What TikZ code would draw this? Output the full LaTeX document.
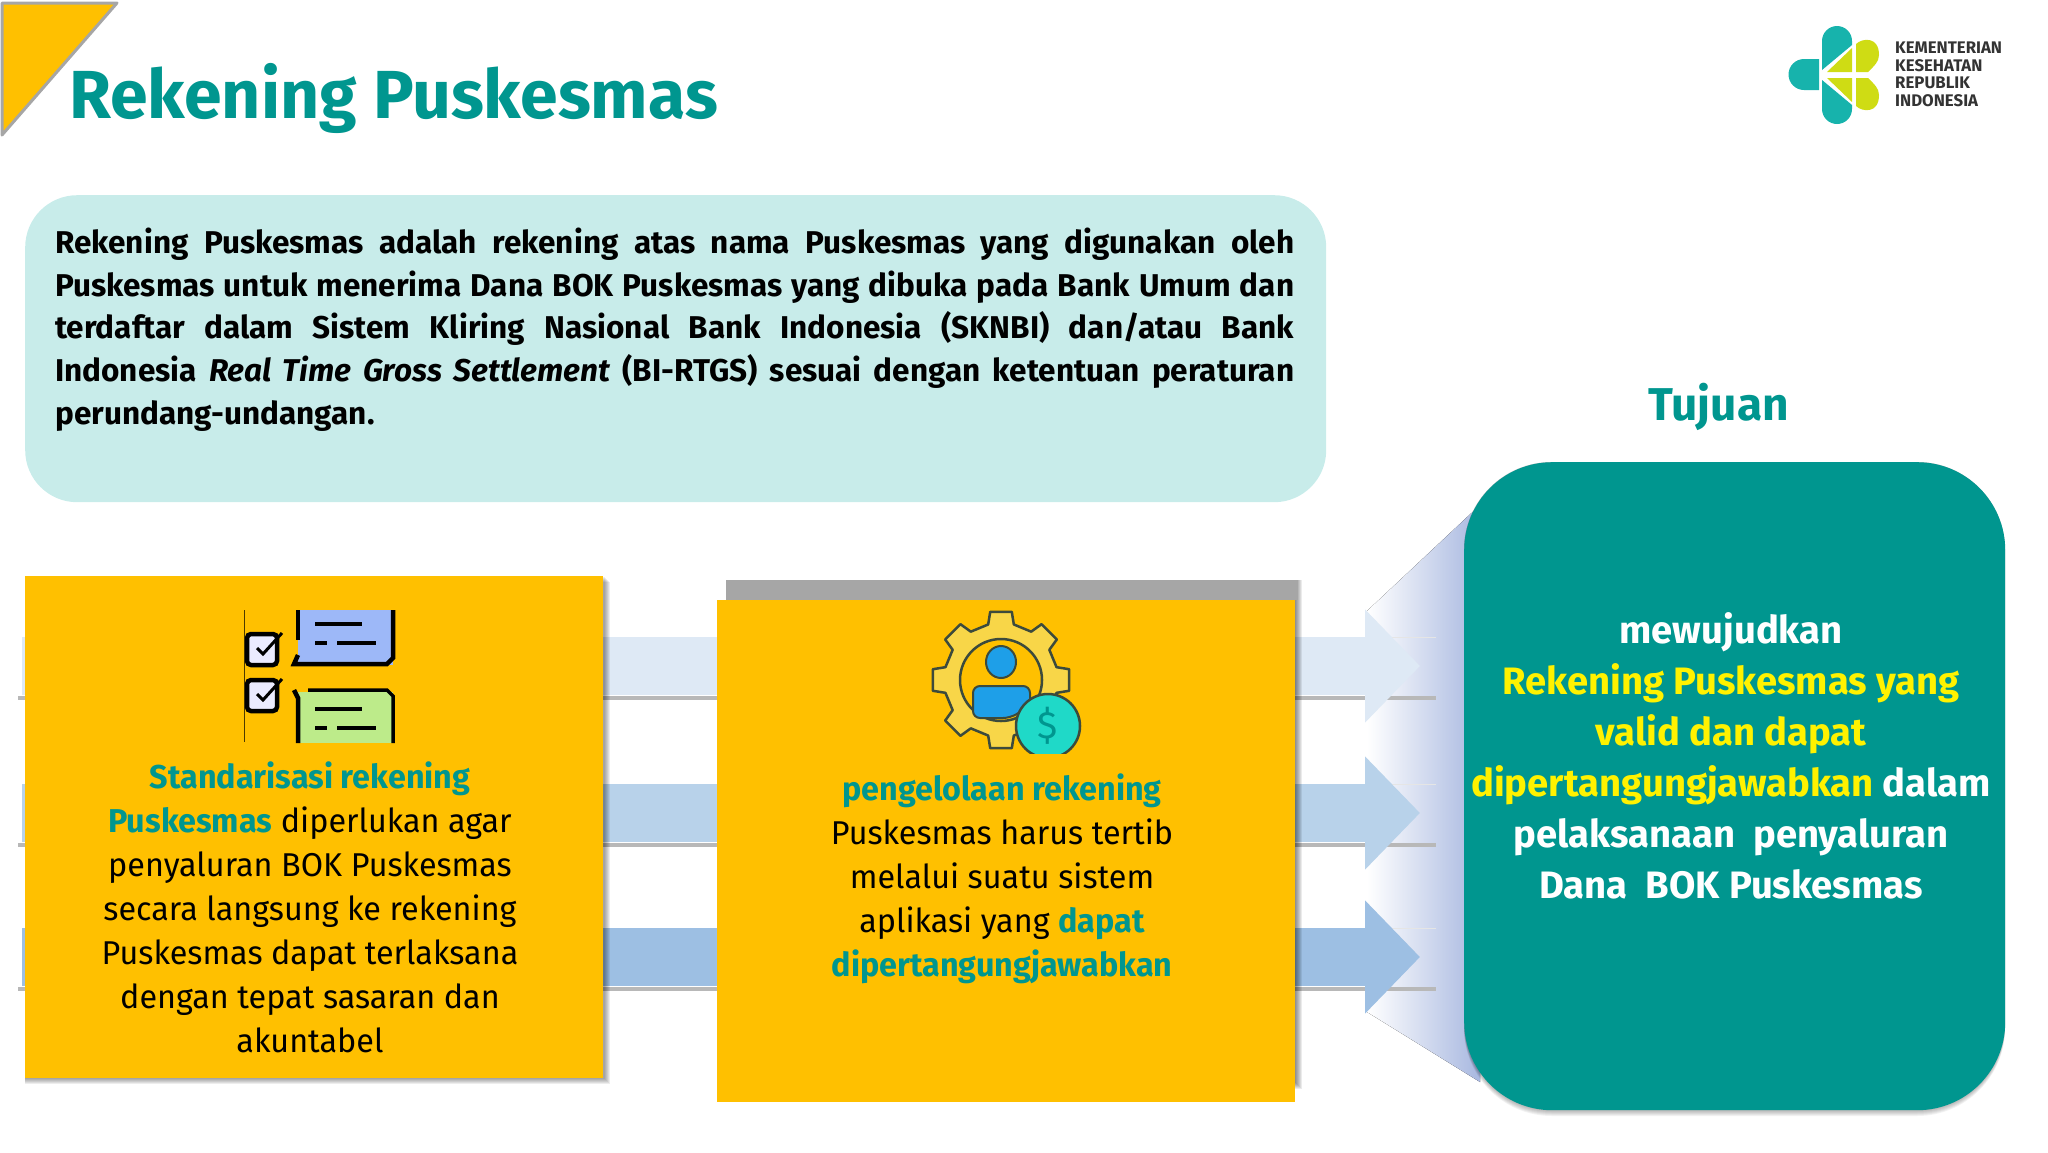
\documentclass[tikz,border=0pt]{standalone}
\usepackage{fontspec}
\setmainfont{Fira Sans}
\newfontfamily\narrowfont{Fira Sans}[FakeStretch=0.98]
\usepackage{xcolor}
\usetikzlibrary{arrows.meta, positioning}
\definecolor{kemkesteal}{HTML}{00968F}
\definecolor{boxyellow}{HTML}{FFC000}
\definecolor{paleteal}{HTML}{C8ECEA}
\definecolor{logogreen}{HTML}{CFDC14}
\definecolor{logoteal}{HTML}{17B3AC}
\definecolor{gearyellow}{HTML}{F8D648}
\definecolor{gearline}{HTML}{3C4A3C}
\definecolor{funnelblue}{HTML}{A8B8E0}
\definecolor{personblue}{HTML}{1E9FE8}
\definecolor{coinfill}{HTML}{1FD9C8}
\definecolor{bubbleblue}{HTML}{9DB8F8}
\definecolor{bubblegreen}{HTML}{BDEB8A}
\tikzstyle{sheettitle} = [font=\fontsize{68}{74}\selectfont\bfseries, text=kemkesteal, inner sep=0pt]
\tikzstyle{defbox}     = [rectangle, rounded corners=52pt, minimum width=1301pt, minimum height=307pt, fill=paleteal]
\tikzstyle{yellowbox}  = [rectangle, minimum width=578pt, minimum height=502pt, fill=boxyellow]
\tikzstyle{goalbox}    = [rectangle, rounded corners=88pt, minimum width=541pt, minimum height=648pt, fill=kemkesteal]
\tikzstyle{bodytext}   = [font=\narrowfont\fontsize{33}{44}\selectfont, text=black, align=center, inner sep=0pt]
\tikzstyle{goaltext}   = [font=\fontsize{38.2}{51}\selectfont\bfseries, text=white, align=center, inner sep=0pt]
\tikzstyle{logotext}   = [font=\fontsize{16.8}{17.4}\selectfont\bfseries, text=black!80, align=left, inner sep=0pt]
\tikzstyle{iconline}   = [line width=3pt, draw=black]
\begin{document}
\begin{tikzpicture}[x=1pt, y=1pt]
\useasboundingbox (0,0) rectangle (2048,-1152);

% corner and title
\draw [fill=boxyellow, draw=black!35, line width=3pt, line join=round] (2,-3) -- (117,-3) -- (2,-135) -- cycle;
\node (title) [sheettitle, anchor=west] at (69,-98) {Rekening Puskesmas};

% logo
\fill [logoteal] (1819,-59) -- (1804,-59) arc (90:270:15.5) -- (1819,-90) -- cycle;
\fill [logoteal] (1822,-70) -- (1822,-41) arc (180:0:15) -- (1852,-45) -- cycle;
\fill [logoteal] (1822,-80) -- (1822,-109) arc (180:360:15) -- (1852,-105) -- cycle;
\fill [logogreen] (1827,-72) -- (1852,-48) -- (1852,-72) -- cycle;
\fill [logogreen] (1827,-78) -- (1852,-102) -- (1852,-78) -- cycle;
\fill [logogreen] (1856,-72) -- (1856,-44) .. controls (1862,-38) and (1879,-36) .. (1879,-55) .. controls (1879,-62) and (1874,-66) .. (1868,-72) -- cycle;
\fill [logogreen] (1856,-78) -- (1856,-106) .. controls (1862,-112) and (1879,-114) .. (1879,-95) .. controls (1879,-88) and (1874,-84) .. (1868,-78) -- cycle;
\node (logoname) [logotext, anchor=north west] at (1895,-42) {KEMENTERIAN\\KESEHATAN\\REPUBLIK\\INDONESIA};

% definition
\node (defn) [defbox, anchor=north west] at (25,-195) {};
\node (defntext) [font=\fontsize{31.5}{42.6}\selectfont\bfseries, text width=1239pt, align=justify, inner sep=0pt, anchor=north west] at (55,-228) {Rekening Puskesmas adalah rekening atas nama Puskesmas yang digunakan oleh\linebreak Puskesmas untuk menerima Dana BOK Puskesmas yang dibuka pada Bank Umum dan\linebreak terdaftar dalam Sistem Kliring Nasional Bank Indonesia (SKNBI) dan/atau Bank\linebreak Indonesia \textit{Real Time Gross Settlement} (BI-RTGS) sesuai dengan ketentuan peraturan\linebreak perundang-undangan.};

% funnel and arrows
\fill [left color=white, right color=funnelblue] (1367,-611) -- (1480,-505) -- (1480,-1082) -- (1367,-1012) -- cycle;
\foreach \rowy/\rowcol in {666/DEE9F5, 813/B8D2EA, 957/9DBFE3} {
  \definecolor{rowfill}{HTML}{\rowcol}
  \draw [black!28, line width=3.5pt] (18,-\rowy-32) -- (1436,-\rowy-32);
  \draw [black!10, line width=1pt] (1380,-\rowy+29) -- (1436,-\rowy+29);
  \coordinate (bandstart\rowy) at (22,-\rowy);
  \coordinate (bandtip\rowy) at (1420,-\rowy);
  \draw [rowfill, line width=58pt, -{Triangle[length=55pt, width=110pt]}] (bandstart\rowy) -- (bandtip\rowy);
}

% left box
\foreach \spread in {1,2,...,6} \fill [black, opacity=0.07] (25,-576-\spread) rectangle (604+\spread,-1078-\spread);
\node (stdbox) [yellowbox, anchor=north west] at (25,-576) {};
\node (stdtext) [bodytext, anchor=north] at (310,-762) {\textcolor{kemkesteal}{\textbf{Standarisasi rekening}}\\\textcolor{kemkesteal}{\textbf{Puskesmas}} diperlukan agar\\penyaluran BOK Puskesmas\\secara langsung ke rekening\\Puskesmas dapat terlaksana\\dengan tepat sasaran dan\\akuntabel};

% checklist icon
\draw [black!70!boxyellow, line width=0.7pt] (244,-610) -- (244,-742);
\fill [bubbleblue] (298,-610) rectangle (393,-665);
\fill [bubblegreen] (298,-692) rectangle (393,-743);
\draw [iconline, line width=4.5pt] (298,-610) -- (298,-640);
\draw [iconline, line width=4.5pt] (393,-610) -- (393,-658) -- (387,-664) -- (294,-664) -- (298,-655);
\draw [iconline, line width=4.5pt] (298,-743) -- (298,-698) -- (294,-690);
\draw [iconline, line width=3.5pt] (308,-690) -- (387,-690) -- (393,-696) -- (393,-743);
\foreach \iconrow in {0,46} {
  \draw [iconline, fill=blue!8, line width=4.5pt, rounded corners=4pt] (247,-634-\iconrow) rectangle (277,-665-\iconrow);
  \draw [line width=3pt] (257,-648-\iconrow) -- (263,-654-\iconrow) -- (282,-633-\iconrow);
  \draw [line width=4pt] (315,-624-\iconrow*1.85) -- (362,-624-\iconrow*1.85);
  \draw [line width=4.5pt] (315,-643-\iconrow*1.85) -- (327,-643-\iconrow*1.85) (337,-643-\iconrow*1.85) -- (376,-643-\iconrow*1.85);
}

% middle box
\foreach \spread in {1,2,...,7} \fill [black, opacity=0.08] (726,-580) rectangle (1295+\spread,-1082-\spread);
\fill [black!35] (726,-580) rectangle (1298,-600);
\node (mgmtbox) [yellowbox, anchor=north west] at (717,-600) {};
\node (mgmttext) [bodytext, anchor=north] at (1002,-774) {\textcolor{kemkesteal}{\textbf{pengelolaan rekening}}\\Puskesmas harus tertib\\melalui suatu sistem\\aplikasi yang \textcolor{kemkesteal}{\textbf{dapat}}\\\textcolor{kemkesteal}{\textbf{dipertangungjawabkan}}};

% gear icon
\draw [gearline, fill=gearyellow, line width=2.5pt, line join=round, shift={(1001,-680)}] (-13:57)
  \foreach \toothangle in {0,45,...,315} { -- (\toothangle-13:57) -- (\toothangle-9:69) -- (\toothangle+9:69) -- (\toothangle+13:57) } -- cycle;
\draw [gearline, fill=boxyellow, line width=2.5pt] (1001,-680) circle (41);
\draw [gearline, fill=personblue, line width=2pt] (1001,-662) ellipse (15 and 16);
\draw [gearline, fill=personblue, line width=2pt, rounded corners=7pt] (973,-718) -- (973,-686) -- (1030,-686) -- (1030,-706) -- (1010,-718) -- cycle;
\begin{scope}
  \clip (1000,-600) rectangle (1100,-753);
  \node (coin) [circle, draw=gearline, fill=coinfill, line width=2.5pt, minimum size=64pt, inner sep=0pt, text=kemkesteal, font=\fontsize{38}{38}\selectfont] at (1048,-726) {\$};
\end{scope}

% goal
\foreach \spread in {1,2,...,6} \fill [black, opacity=0.05, rounded corners=88pt] (1464,-462) rectangle (2005,-1110-\spread);
\node (goal) [goalbox, anchor=north west] at (1464,-462) {};
\node (tujuan) [sheettitle, font=\fontsize{46}{50}\selectfont\bfseries, above=31pt of goal.north, xshift=-16pt] {Tujuan};
\node (goaltext) [goaltext, anchor=north] at (1731,-612) {mewujudkan\\\textcolor{yellow}{Rekening Puskesmas yang}\\\textcolor{yellow}{valid dan dapat}\\\textcolor{yellow}{dipertangungjawabkan} dalam\\pelaksanaan \ penyaluran\\Dana \ BOK Puskesmas};

\end{tikzpicture}
\end{document}
